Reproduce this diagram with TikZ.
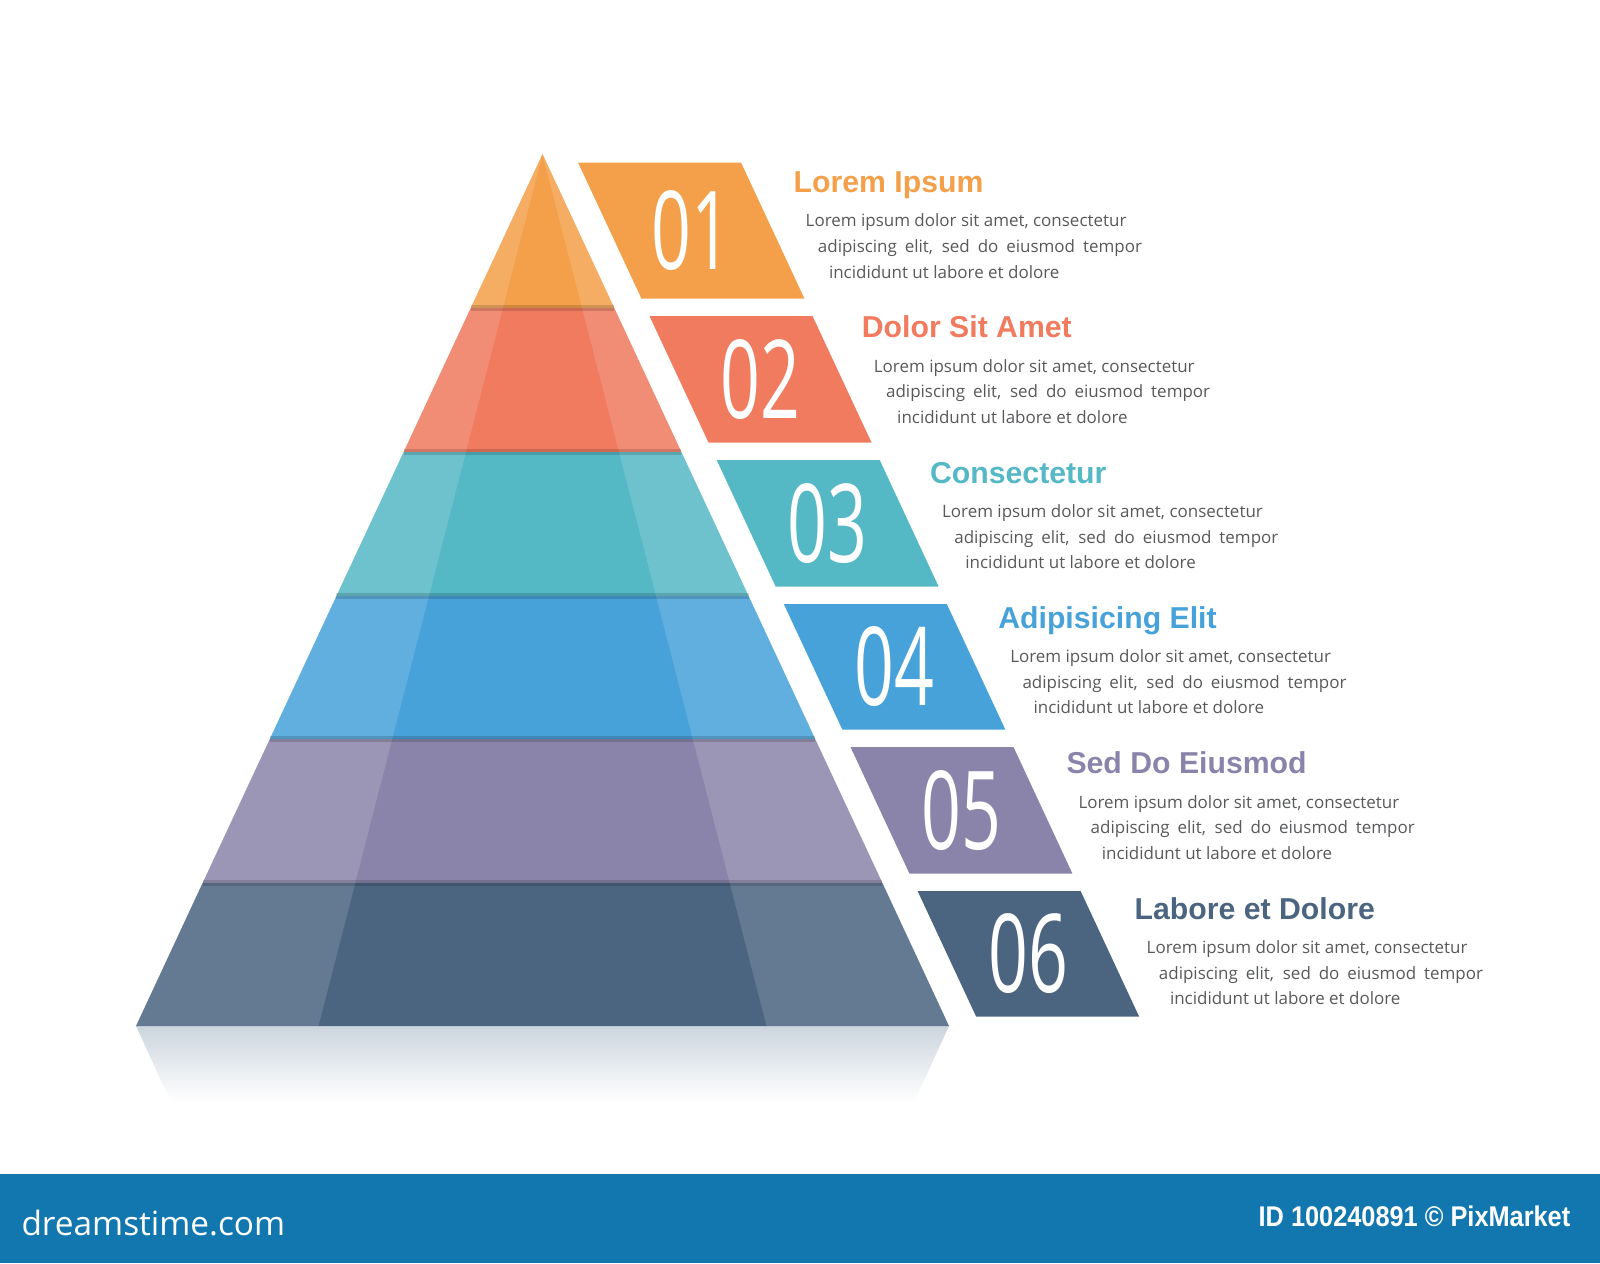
\documentclass[tikz,border=0pt]{standalone}
\usepackage{fontspec}
\setmainfont{Open Sans}
\newfontfamily\headfont{Liberation Sans}
\definecolor{lev1}{HTML}{F4A04A}
\definecolor{lev2}{HTML}{F07B5F}
\definecolor{lev3}{HTML}{55B8C5}
\definecolor{lev4}{HTML}{47A2DA}
\definecolor{lev5}{HTML}{8B84AA}
\definecolor{lev6}{HTML}{4B6581}
\definecolor{bodygray}{HTML}{58595B}
\definecolor{refl}{HTML}{CCD5DE}
\definecolor{banner}{HTML}{1177AE}
\newcommand{\loremlines}{Lorem ipsum dolor sit amet, consectetur\\\hspace*{0.122cm}\makebox[3.24cm][s]{adipiscing elit, sed do eiusmod tempor}\\\hspace*{0.233cm}incididunt ut labore et dolore}

\begin{document}
\begin{tikzpicture}[
	numtext/.style={inner sep=0, text=white, font=\fontsize{31}{31}\selectfont},
	headtext/.style={anchor=base west, inner sep=0, font=\headfont\bfseries\fontsize{8.6}{10}\selectfont},
	bodytext/.style={anchor=base west, inner sep=0, align=left, text=bodygray, font=\fontsize{4.83}{7.26}\selectfont},
	shadowline/.style={black, opacity=0.15, line width=1.6pt, yshift=-0.8pt}
	]
	\useasboundingbox (0,0) rectangle (16,-12.63);
	
	% spigoli della piramide
	\coordinate (p0) at (5.425,-1.54);
	\coordinate (l1) at (4.707,-3.08);  \coordinate (r1) at (6.143,-3.08);
	\coordinate (l2) at (4.036,-4.52);  \coordinate (r2) at (6.814,-4.52);
	\coordinate (l3) at (3.364,-5.96);  \coordinate (r3) at (7.486,-5.96);
	\coordinate (l4) at (2.698,-7.39);  \coordinate (r4) at (8.152,-7.39);
	\coordinate (l5) at (2.026,-8.83);  \coordinate (r5) at (8.824,-8.83);
	\coordinate (l6) at (1.36,-10.26);  \coordinate (r6) at (9.49,-10.26);
	
	% riflesso
	\shade[top color=refl, bottom color=white] (l6) -- (r6) -- (9.14,-11.02) -- (1.71,-11.02) -- cycle;
	
	% livelli
	\fill[lev1] (p0) -- (r1) -- (l1) -- cycle;
	\fill[lev2] (l1) -- (r1) -- (r2) -- (l2) -- cycle;
	\fill[lev3] (l2) -- (r2) -- (r3) -- (l3) -- cycle;
	\fill[lev4] (l3) -- (r3) -- (r4) -- (l4) -- cycle;
	\fill[lev5] (l4) -- (r4) -- (r5) -- (l5) -- cycle;
	\fill[lev6] (l5) -- (r5) -- (r6) -- (l6) -- cycle;
	
	% facce laterali
	\fill[white, opacity=0.14] (p0) -- (l6) -- (3.185,-10.26) -- cycle;
	\fill[white, opacity=0.14] (p0) -- (7.665,-10.26) -- (r6) -- cycle;
	
	\draw[shadowline] (l1) -- (r1);
	\draw[shadowline] (l2) -- (r2);
	\draw[shadowline] (l3) -- (r3);
	\draw[shadowline] (l4) -- (r4);
	\draw[shadowline] (l5) -- (r5);
	
	% riquadri numerati
	\fill[lev1] (5.781,-1.627) -- (7.411,-1.627) -- (8.044,-2.985) -- (6.414,-2.985) -- cycle;
	\fill[lev2] (6.495,-3.16) -- (8.125,-3.16) -- (8.715,-4.425) -- (7.085,-4.425) -- cycle;
	\fill[lev3] (7.167,-4.60) -- (8.797,-4.60) -- (9.386,-5.865) -- (7.756,-5.865) -- cycle;
	\fill[lev4] (7.838,-6.04) -- (9.468,-6.04) -- (10.053,-7.295) -- (8.423,-7.295) -- cycle;
	\fill[lev5] (8.505,-7.47) -- (10.135,-7.47) -- (10.724,-8.735) -- (9.094,-8.735) -- cycle;
	\fill[lev6] (9.176,-8.91) -- (10.806,-8.91) -- (11.391,-10.165) -- (9.761,-10.165) -- cycle;
	
	\node[numtext] (num1) at (6.912,-2.306) {\scalebox{0.64}[1]{01}};
	\node[numtext] (num2) at (7.605,-3.793) {\scalebox{0.64}[1]{02}};
	\node[numtext] (num3) at (8.276,-5.233) {\scalebox{0.64}[1]{03}};
	\node[numtext] (num4) at (8.946,-6.668) {\scalebox{0.64}[1]{04}};
	\node[numtext] (num5) at (9.614,-8.103) {\scalebox{0.64}[1]{05}};
	\node[numtext] (num6) at (10.283,-9.538) {\scalebox{0.64}[1]{06}};
	
	% titoli e testi
	\node[headtext, text=lev1] (head1) at (7.93,-1.926) {Lorem Ipsum};
	\node[headtext, text=lev2] (head2) at (8.612,-3.379) {Dolor Sit Amet};
	\node[headtext, text=lev3] (head3) at (9.294,-4.832) {Consectetur};
	\node[headtext, text=lev4] (head4) at (9.976,-6.285) {Adipisicing Elit};
	\node[headtext, text=lev5] (head5) at (10.658,-7.738) {Sed Do Eiusmod};
	\node[headtext, text=lev6] (head6) at (11.34,-9.191) {Labore et Dolore};
	
	\node[bodytext] (text1) at (8.05,-2.78) {\loremlines};
	\node[bodytext] (text2) at (8.732,-4.233) {\loremlines};
	\node[bodytext] (text3) at (9.414,-5.686) {\loremlines};
	\node[bodytext] (text4) at (10.096,-7.139) {\loremlines};
	\node[bodytext] (text5) at (10.778,-8.592) {\loremlines};
	\node[bodytext] (text6) at (11.46,-10.045) {\loremlines};
	
	% fascia in basso
	\fill[banner] (0,-11.735) rectangle (16,-12.63);
	\node[anchor=base west, inner sep=0, text=white, font=\fontsize{9.5}{10}\selectfont] (site) at (0.208,-12.357) {dreamstime.com};
	\node[anchor=base east, inner sep=0, text=white, font=\headfont\bfseries\fontsize{8.1}{10}\selectfont] (imgid) at (15.71,-12.265) {\scalebox{0.89}[1]{ID 100240891 © PixMarket}};
\end{tikzpicture}
\end{document}
